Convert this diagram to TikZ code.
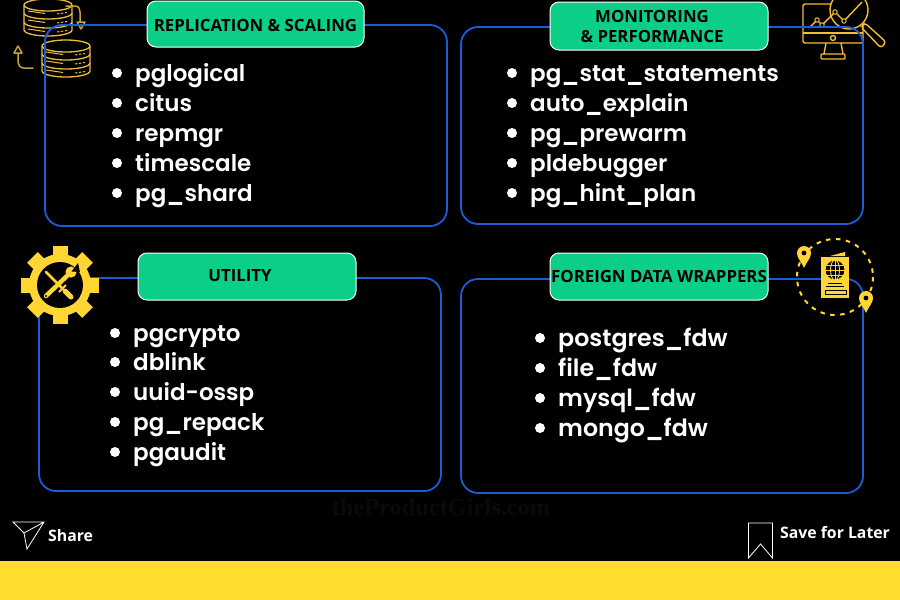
\documentclass[tikz,border=0pt]{standalone}
\usepackage{fontspec}
\setmainfont{Open Sans}
\newfontfamily\listfont{Poppins SemiBold}
\newfontfamily\markfont{Liberation Serif}
\definecolor{boxblue}{HTML}{1C5CD6}
\definecolor{pill}{HTML}{0CCF87}
\definecolor{band}{HTML}{FFDC2E}
\definecolor{gold}{HTML}{E9BE3E}
\definecolor{amber}{HTML}{F5BE2A}
\definecolor{sun}{HTML}{FFD633}
\tikzset{
  panel/.style={draw=boxblue,line width=1.8pt,rounded corners=17pt},
  pillbox/.style={draw=white,line width=1pt,fill=pill,rounded corners=9pt},
  pilltext/.style={font=\bfseries\fontsize{16.8}{20}\selectfont,text=black,align=center,inner sep=0pt},
  item/.style={font=\listfont\fontsize{23}{23}\selectfont,text=white,anchor=base west,inner sep=0pt},
  itemwide/.style={item,font=\listfont\fontsize{23.7}{23.7}\selectfont},
  dot/.style={fill=white,draw=none,circle,minimum size=10pt,inner sep=0pt},
  dbline/.style={draw=gold,line width=1.3pt},
  dbarrow/.style={draw=gold!85!black,line width=1.5pt,line join=round},
  mon/.style={draw=amber,line width=1.4pt},
  foot/.style={font=\bfseries\fontsize{15.8}{18}\selectfont,text=white,inner sep=0pt},
  thin/.style={draw=white,line width=.8pt,line join=miter}
}
\newcommand{\dbicon}[2]{%
  \begin{scope}[shift={(#1,#2)}]
    \fill[black] (-24,0) -- (-24,25) arc[start angle=180,end angle=0,x radius=24,y radius=6] -- (24,0) arc[start angle=0,end angle=-180,x radius=24,y radius=6];
    \draw[dbline] (0,0) ellipse[x radius=24,y radius=6];
    \draw[dbline] (-24,0) -- (-24,25) arc[start angle=180,end angle=0,x radius=24,y radius=6] -- (24,0);
    \draw[dbline] (-24,8) arc[start angle=180,end angle=0,x radius=24,y radius=6];
    \draw[dbline] (-24,17) arc[start angle=180,end angle=0,x radius=24,y radius=6];
    \foreach \yy in {6,15,24}{
      \draw[dbline,line width=1pt] (-20,\yy) -- (-3,\yy+2.5);
      \draw[dbline,line width=1pt,dash pattern=on 2.5pt off 1.5pt] (9,\yy+3) -- (19,\yy+1.5);
    }
  \end{scope}}
\newcommand{\pinicon}[2]{%
  \begin{scope}[shift={(#1,#2)}]
    \fill[sun] (0,14) .. controls (-3,7) and (-7,4) .. (-7,-1) arc[start angle=180,end angle=360,radius=7] .. controls (7,4) and (3,7) .. (0,14) -- cycle;
    \fill[black] (0,-1) circle[radius=2.4];
  \end{scope}}
\begin{document}
\begin{tikzpicture}[x=1pt,y=-1pt]
\useasboundingbox (0,0) rectangle (900,600);
\fill[black] (0,0) rectangle (900,600);
\fill[band] (0,561) rectangle (900,600);
% database icons
\dbicon{48}{5}
\dbicon{66}{46}
\draw[dbarrow,line cap=round] (66,6) -- (75,6) .. controls (79,6) and (80,9) .. (80,12) -- (80,22);
\draw[dbarrow] (77,22) -- (85,22) -- (81,29) -- cycle;
\draw[dbarrow,line cap=round] (33,68) -- (24,68) .. controls (20,68) and (18,65) .. (18,62) -- (18,53);
\draw[dbarrow] (14,53) -- (22,53) -- (18,46) -- cycle;
% monitor icon
\draw[mon,rounded corners=2pt] (803,4) rectangle (863,43);
\draw[mon] (803,33) -- (863,33);
\draw[mon] (826,43) -- (824,54) (841,43) -- (843,54);
\draw[mon,rounded corners=1pt] (821,54) rectangle (845,59);
\draw[mon] (833,38) circle[radius=2.5];
\fill[black] (849,10) circle[radius=19];
\draw[mon] (849,10) circle[radius=19];
\draw[mon,rounded corners=3pt] (861,27) -- (865,23) -- (886,42) -- (881,48) -- cycle;
\draw[mon] (809,28) -- (817,20) -- (822,25) -- (835,12) -- (844,21) -- (862,2);
\foreach \px/\py in {817/20,822/25,835/12,844/21}{\fill[black] (\px,\py) circle[radius=2.2];\draw[mon,line width=1pt] (\px,\py) circle[radius=2.2];}
% panels
\draw[panel] (45,25) rectangle (447,226);
\draw[panel] (461,27) rectangle (863,224);
\draw[panel] (39,278) rectangle (441,491);
\draw[panel] (461,279) rectangle (863,493);
% gear
\fill[sun] (60,285) circle[radius=31];
\foreach \ang in {0,45,...,315}{\fill[sun,rotate around={\ang:(60,285)}] (52.5,246) rectangle (67.5,262);}
\fill[black] (60,285) circle[radius=23];
% screwdriver
\draw[sun,line width=2.6pt,line cap=round] (46,272) -- (62,288);
\draw[sun,line width=5pt,line cap=round] (65,291) -- (71,297);
\draw[sun,line width=2pt] (59,292) -- (66,285);
% wrench
\draw[sun,line width=4.5pt,line cap=round] (46,296) -- (68,275);
\fill[sun] (71,272) circle[radius=5.6];
\fill[black] (71.5,271.5) -- (78,263) -- (80,272) -- cycle;
\fill[black] (46,296) circle[radius=1.2];
% passport
\draw[sun,line width=2pt,dash pattern=on 4.5pt off 5.5pt] (835,277) circle[radius=38];
\fill[sun] (821,257) rectangle (849,298);
\fill[sun] (830,256) -- (845,252) -- (845,256) -- cycle;
\fill[black] (835,270) circle[radius=10];
\draw[sun,line width=.9pt] (835,270) circle[radius=10];
\draw[sun,line width=.9pt] (835,270) ellipse[x radius=4.5,y radius=10];
\draw[sun,line width=.9pt] (825,270) -- (845,270) (827,265) -- (843,265) (827,275) -- (843,275) (835,260) -- (835,280);
\fill[black] (828,283) rectangle (842,284.3);
\fill[black] (826,286) rectangle (844,287.3);
\draw[black,line width=.9pt] (825,290.5) rectangle (846,294.5);
\pinicon{804}{254}
\pinicon{866}{299}
% pills
\draw[pillbox] (147,1) rectangle (364,47);
\node[pilltext] (h1) at (255.5,25) {REPLICATION \& SCALING};
\draw[pillbox] (550,2) rectangle (768,50);
\node[pilltext] (h2) at (652,26.5) {MONITORING\\\& PERFORMANCE};
\draw[pillbox] (138,253) rectangle (356,300);
\node[pilltext] (h3) at (240,276) {UTILITY};
\draw[pillbox] (550,253) rectangle (768,300);
\node[pilltext] (h4) at (659,276) {FOREIGN DATA WRAPPERS};
% lists
\foreach \name/\yy/\txt in {a1/73/pglogical,a2/103/citus,a3/133/repmgr,a4/163/timescale,a5/193/pg\_shard}{
  \node[dot] at (117,\yy) {};
  \node[item] (\name) at (135,\yy+8) {\txt};
}
\foreach \name/\yy/\txt in {b1/73/pg\_stat\_statements,b2/103/auto\_explain,b3/133/pg\_prewarm,b4/163/pldebugger,b5/193/pg\_hint\_plan}{
  \node[dot] at (512,\yy) {};
  \node[item] (\name) at (530,\yy+8) {\txt};
}
\foreach \name/\yy/\txt in {c1/333/pgcrypto,c2/362/dblink,c3/392/uuid-ossp,c4/422/pg\_repack,c5/452/pgaudit}{
  \node[dot] at (115,\yy) {};
  \node[item] (\name) at (133,\yy+8) {\txt};
}
\foreach \name/\yy/\txt in {d1/338/postgres\_fdw,d2/368/file\_fdw,d3/398/mysql\_fdw,d4/428/mongo\_fdw}{
  \node[dot] at (540,\yy) {};
  \node[itemwide] (\name) at (558,\yy+8) {\txt};
}
% watermark
\node[font=\markfont\bfseries\fontsize{24.4}{24}\selectfont,text=white!4!black,inner sep=0pt] (wm) at (441,507) {theProductGirls.com};
% footer
\draw[thin] (13,522) -- (44,522) -- (27,549) -- (24,533) -- cycle (24,533) -- (44,522);
\node[foot,anchor=west] (share) at (48,536) {Share};
\draw[thin] (748.5,523) -- (772.5,523) -- (772.5,558) -- (760.5,544) -- (748.5,558) -- cycle;
\node[foot,anchor=west] (save) at (780,533) {Save for Later};
\end{tikzpicture}
\end{document}
